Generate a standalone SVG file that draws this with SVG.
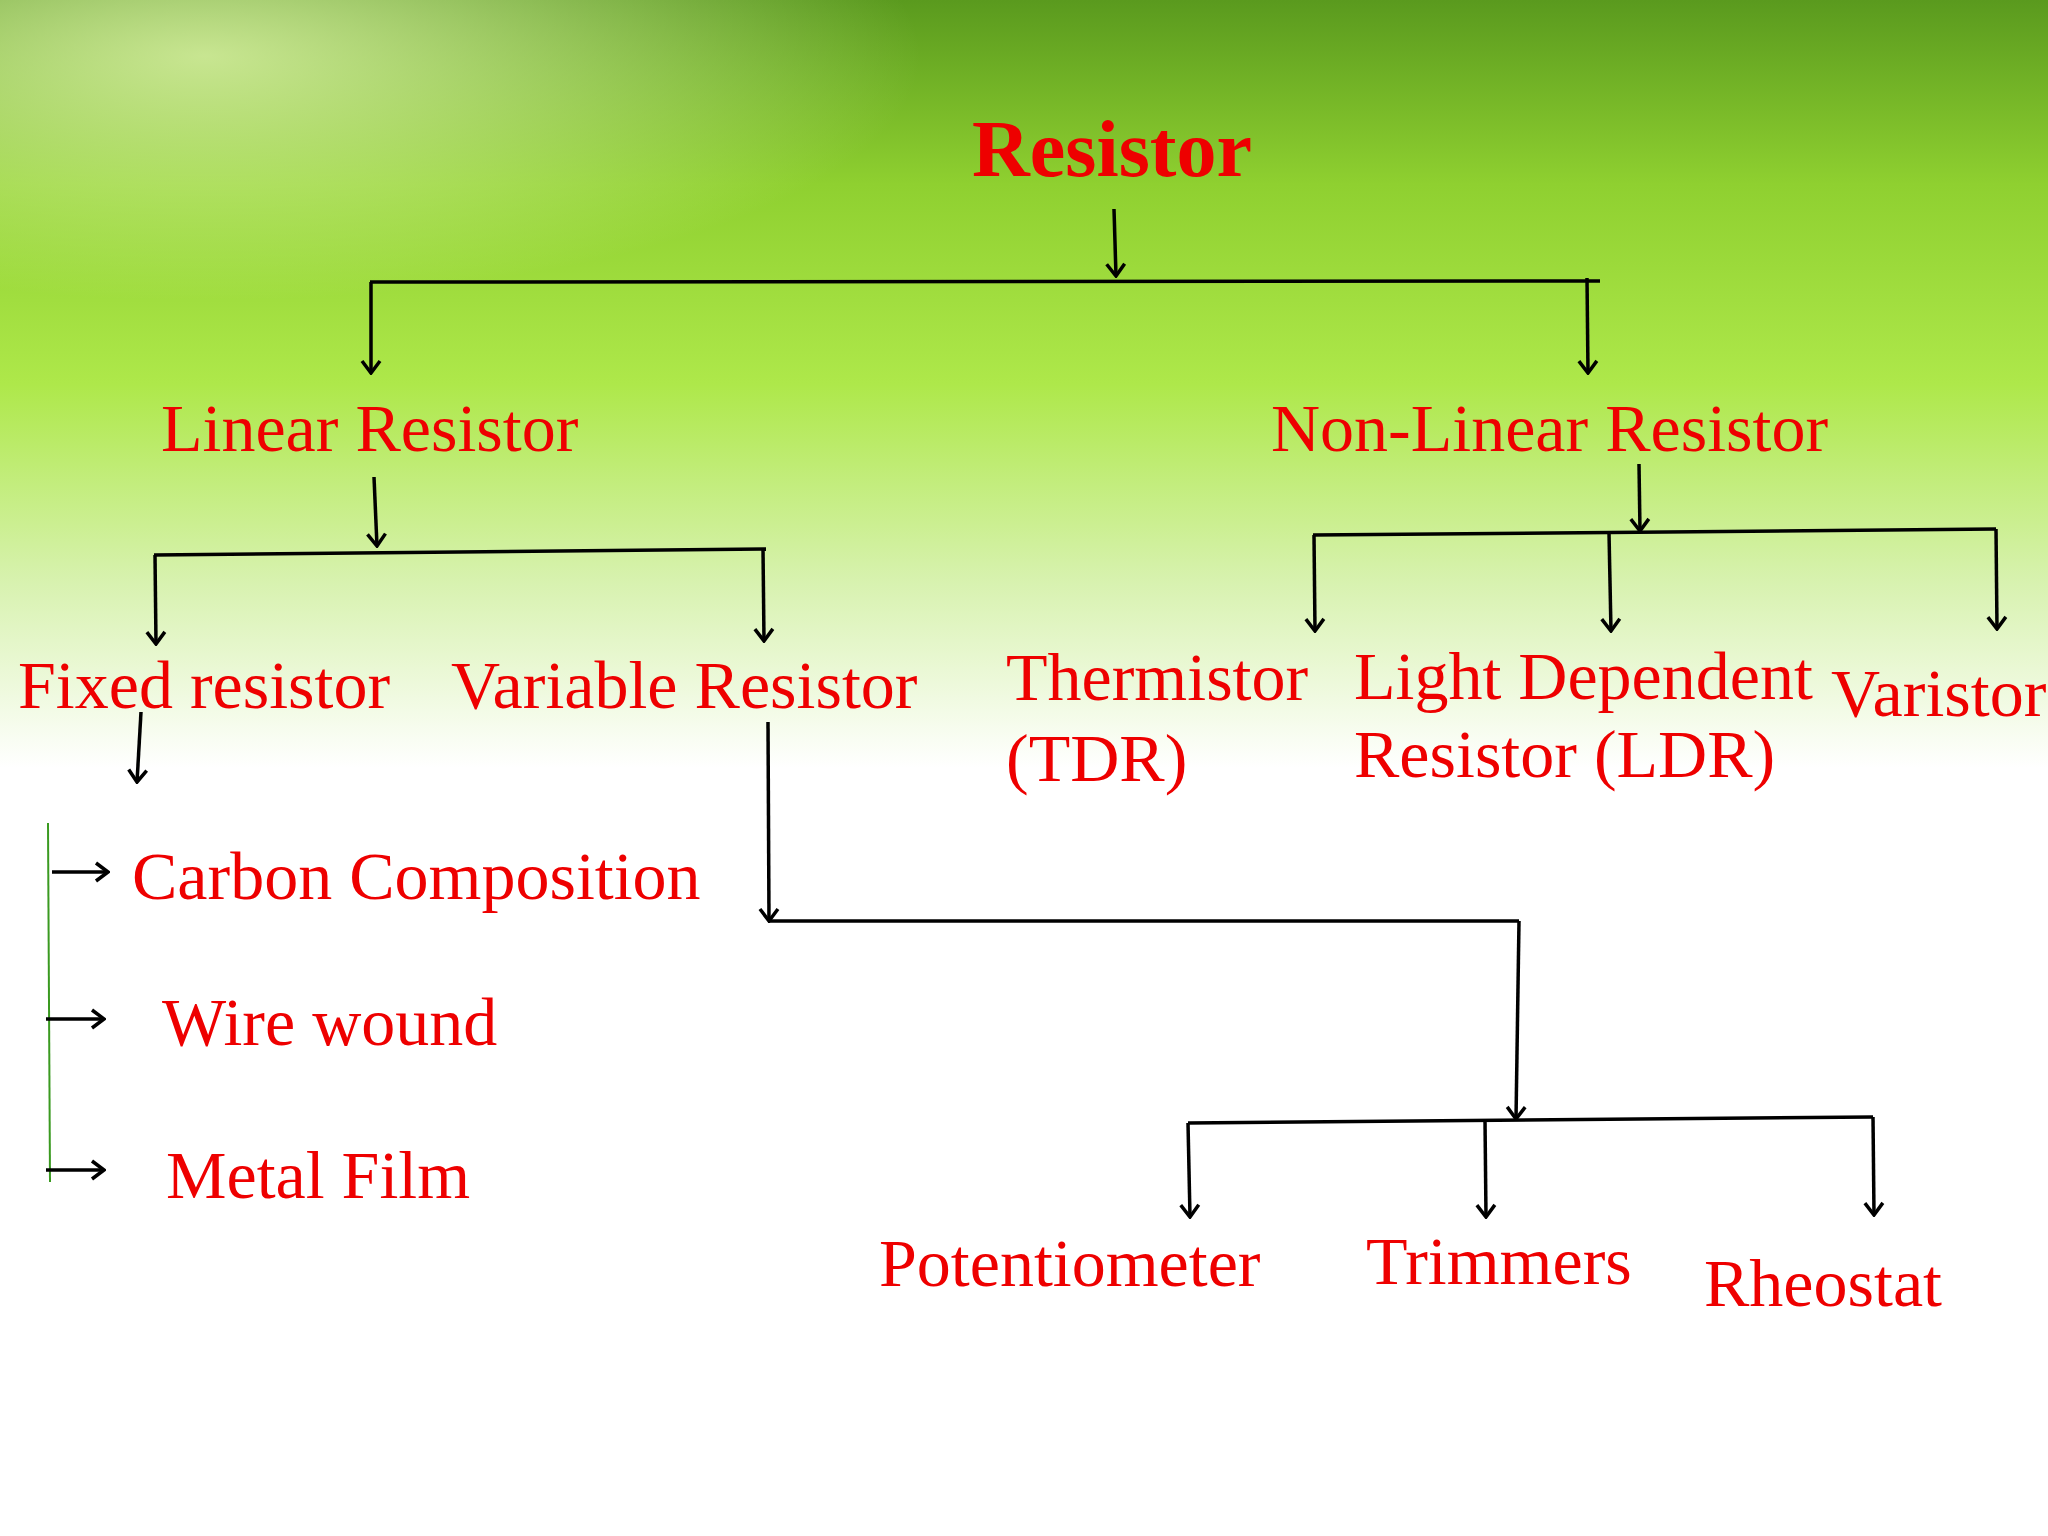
<svg xmlns="http://www.w3.org/2000/svg" width="2048" height="1536" viewBox="0 0 2048 1536">
<defs>
<linearGradient id="bg" x1="0" y1="0" x2="0" y2="1">
<stop offset="0" stop-color="#5a9a1e"/>
<stop offset="0.12" stop-color="#8fd030"/>
<stop offset="0.25" stop-color="#aee84a"/>
<stop offset="0.38" stop-color="#d8f2b0"/>
<stop offset="0.5" stop-color="#ffffff"/>
<stop offset="1" stop-color="#ffffff"/>
</linearGradient>
<radialGradient id="glow" cx="0.1" cy="0.08" r="0.35">
<stop offset="0" stop-color="#f0ffc0" stop-opacity="0.7"/>
<stop offset="1" stop-color="#f0ffc0" stop-opacity="0"/>
</radialGradient>
<marker id="ah" markerWidth="24" markerHeight="24" refX="22" refY="12" orient="auto" markerUnits="userSpaceOnUse" viewBox="0 0 24 24">
<polyline points="10,3 22,12 10,21" fill="none" stroke="#000" stroke-width="3.5"/>
</marker>
</defs>
<style>
text{font-family:"Liberation Serif","Times New Roman",serif;fill:#ee0000;font-size:68px}
.c line{stroke:#000;stroke-width:3.5}
.d,.r{marker-end:url(#ah)}
</style>
<rect width="2048" height="1536" fill="url(#bg)"/>
<rect width="2048" height="700" fill="url(#glow)"/>
<g class="c" id="connectors">
<line class="d" x1="1114" y1="209" x2="1116" y2="276"/>
<line x1="370" y1="282" x2="1600" y2="281"/>
<line class="d" x1="371" y1="282" x2="371" y2="373"/>
<line class="d" x1="1587" y1="278" x2="1588" y2="373"/>
<line class="d" x1="374" y1="477" x2="377" y2="546"/>
<line x1="154" y1="555" x2="766" y2="549"/>
<line class="d" x1="155" y1="555" x2="156" y2="644"/>
<line class="d" x1="763" y1="549" x2="764" y2="641"/>
<line class="d" x1="141" y1="712" x2="137" y2="782"/>
<line x1="48" y1="823" x2="50" y2="1182" style="stroke:#3a9a20;stroke-width:2"/>
<line class="r" x1="52" y1="872" x2="108" y2="872"/>
<line class="r" x1="46" y1="1019" x2="104" y2="1019"/>
<line class="r" x1="46" y1="1170" x2="104" y2="1170"/>
<line class="d" x1="768" y1="722" x2="769" y2="921"/>
<line x1="768" y1="921" x2="1519" y2="921"/>
<line class="d" x1="1519" y1="921" x2="1516" y2="1119"/>
<line x1="1188" y1="1123" x2="1873" y2="1117"/>
<line class="d" x1="1188" y1="1123" x2="1190" y2="1217"/>
<line class="d" x1="1485" y1="1120" x2="1486" y2="1217"/>
<line class="d" x1="1873" y1="1117" x2="1874" y2="1215"/>
<line class="d" x1="1639" y1="464" x2="1640" y2="531"/>
<line x1="1313" y1="535" x2="1996" y2="529"/>
<line class="d" x1="1314" y1="535" x2="1315" y2="631"/>
<line class="d" x1="1609" y1="533" x2="1611" y2="631"/>
<line class="d" x1="1996" y1="529" x2="1997" y2="629"/>
</g>
<g id="n-resistor"><text x="1112" y="176" text-anchor="middle" font-weight="bold" style="font-size:80px">Resistor</text></g>
<g id="n-linear"><text x="161" y="451">Linear Resistor</text></g>
<g id="n-nonlinear"><text x="1271" y="451">Non-Linear Resistor</text></g>
<g id="n-fixed"><text x="18" y="708">Fixed resistor</text></g>
<g id="n-variable"><text x="451" y="708">Variable Resistor</text></g>
<g id="n-carbon"><text x="132" y="899">Carbon Composition</text></g>
<g id="n-wire"><text x="162" y="1045">Wire wound</text></g>
<g id="n-metal"><text x="166" y="1198">Metal Film</text></g>
<g id="n-pot"><text x="879" y="1286">Potentiometer</text></g>
<g id="n-trim"><text x="1366" y="1284">Trimmers</text></g>
<g id="n-rheo"><text x="1704" y="1306">Rheostat</text></g>
<g id="n-therm"><text x="1006" y="700">Thermistor</text><text x="1006" y="781">(TDR)</text></g>
<g id="n-ldr"><text x="1354" y="699">Light Dependent</text><text x="1354" y="777">Resistor (LDR)</text></g>
<g id="n-var"><text x="1831" y="716">Varistor</text></g>
</svg>
